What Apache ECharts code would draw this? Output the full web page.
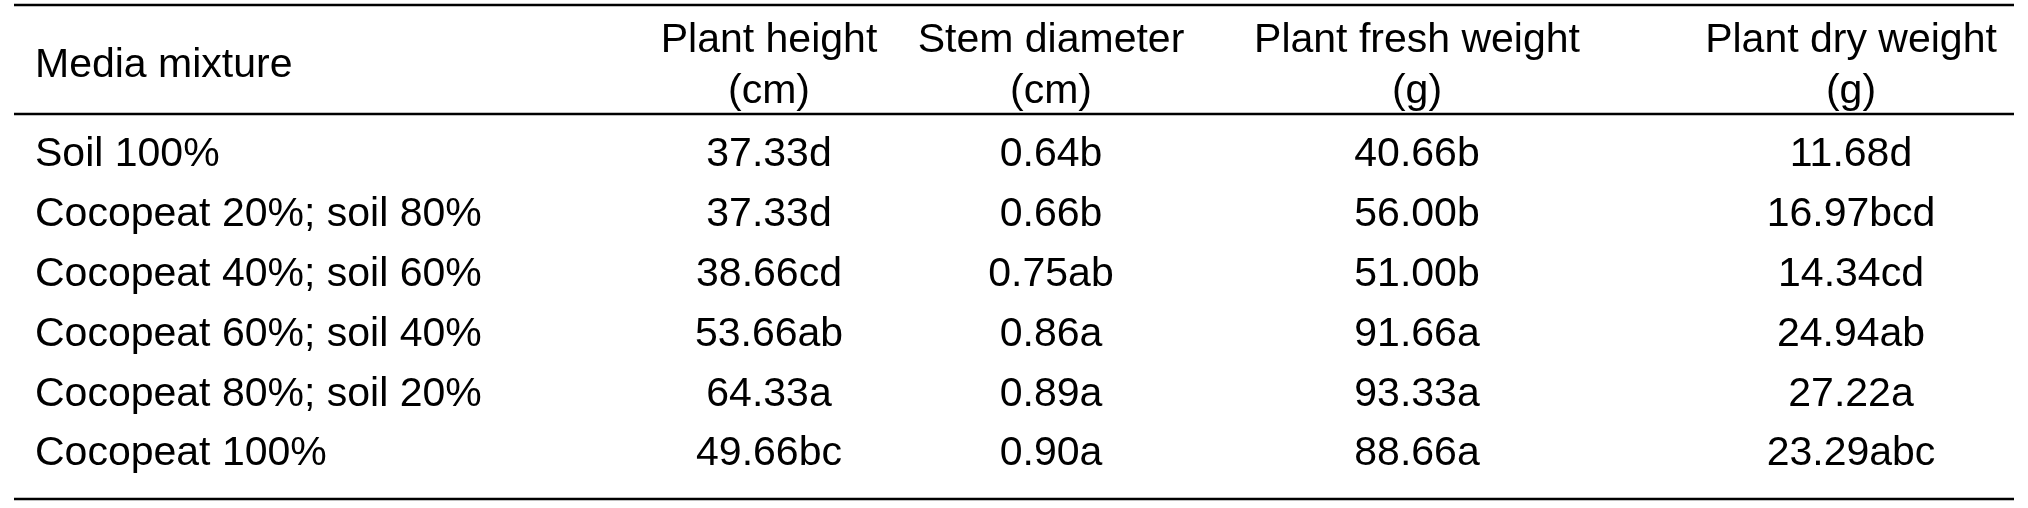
<!DOCTYPE html>
<html><head><meta charset="utf-8">
<script src="https://cdn.jsdelivr.net/npm/echarts@6/dist/echarts.min.js"></script>
<style>html,body{margin:0;padding:0;background:#fff}#c{width:2028px;height:508px}</style>
</head><body><div id="c"></div>
<script>
const headers = ["Media mixture", "Plant height\n(cm)", "Stem diameter\n(cm)", "Plant fresh weight\n(g)", "Plant dry weight\n(g)"];
const categories = ["Soil 100%", "Cocopeat 20%; soil 80%", "Cocopeat 40%; soil 60%", "Cocopeat 60%; soil 40%", "Cocopeat 80%; soil 20%", "Cocopeat 100%"];
const plantHeight = ["37.33d", "37.33d", "38.66cd", "53.66ab", "64.33a", "49.66bc"];
const stemDiameter = ["0.64b", "0.66b", "0.75ab", "0.86a", "0.89a", "0.90a"];
const freshWeight = ["40.66b", "56.00b", "51.00b", "91.66a", "93.33a", "88.66a"];
const dryWeight = ["11.68d", "16.97bcd", "14.34cd", "24.94ab", "27.22a", "23.29abc"];

const colX = [35, 769, 1051, 1417, 1851];
const rowY = [155, 215, 275, 335, 395, 454];
const font = '41px "Liberation Sans", Arial, sans-serif';
const els = [];
const line = (y, w) => els.push({type:'line', shape:{x1:14,y1:y,x2:2014,y2:y}, style:{stroke:'#000', lineWidth:w}});
line(5, 2.5); line(114, 2.5); line(499, 2.5);
headers.forEach((h, i) => {
  els.push({type:'text', x: colX[i], y: 66, style:{text:h, font, fill:'#000', align: i===0?'left':'center', verticalAlign:'middle', lineHeight:51}});
});
const cols = [categories, plantHeight, stemDiameter, freshWeight, dryWeight];
cols.forEach((col, i) => col.forEach((v, r) => {
  els.push({type:'text', x: colX[i], y: rowY[r], style:{text:v, font, fill:'#000', align: i===0?'left':'center', verticalAlign:'middle'}});
}));
const chart = echarts.init(document.getElementById('c'));
chart.setOption({animation:false, graphic: els});
</script></body></html>
